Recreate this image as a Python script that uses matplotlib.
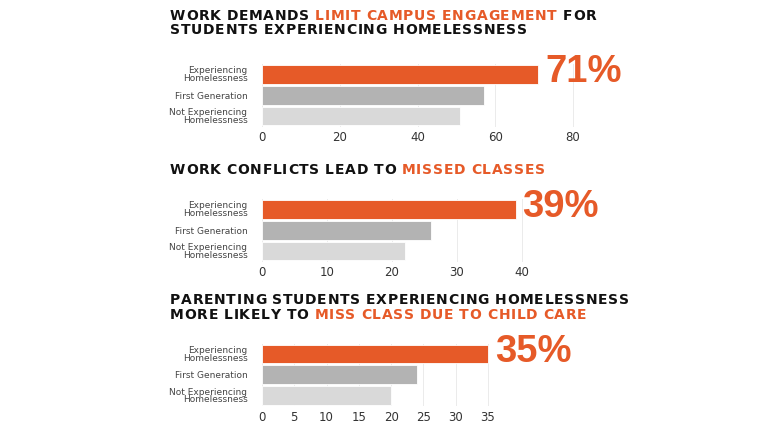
import matplotlib.pyplot as plt

# data
groups = ["Experiencing\nHomelessness", "First Generation", "Not Experiencing\nHomelessness"]
work_demands = [71, 57, 51]
missed_classes = [39, 26, 22]
child_care = [35, 24, 20]

ticks_1 = [0, 20, 40, 60, 80]
ticks_2 = [0, 10, 20, 30, 40]
ticks_3 = [0, 5, 10, 15, 20, 25, 30, 35]

ORANGE = "#E65A28"
BAR_COLORS = [ORANGE, "#B3B3B3", "#D9D9D9"]
W, H = 768, 432

fig = plt.figure(figsize=(7.68, 4.32), dpi=100)
fig.patch.set_facecolor("white")
renderer = fig.canvas.get_renderer()


def title_line(parts, x_px, base_px, size=10.0, track=0.7):
    # parts: list of (text, color); drawn char by char to get the wide letter spacing
    x = x_px
    for txt, col in parts:
        for ch in txt:
            if ch == " ":
                x += size * 0.32 * 100 / 72 + track
                continue
            t = fig.text(x / W, 1 - base_px / H, ch, color=col, fontsize=size,
                         fontweight="bold", family="DejaVu Sans", va="baseline", ha="left")
            x += t.get_window_extent(renderer).width + track


def panel(values, ticks, xmax, scale, top_px, bottom_px):
    left = 262
    width = xmax * scale
    ax = fig.add_axes([left / W, 1 - bottom_px / H, width / W, (bottom_px - top_px) / H])
    y = list(range(len(values)))
    ax.barh(y, values, height=0.9, color=BAR_COLORS, edgecolor="white", linewidth=0.6, zorder=2)
    ax.set_ylim(len(values) - 0.5, -0.5)
    ax.set_xlim(0, xmax)
    ax.set_xticks(ticks)
    ax.set_yticks(y)
    ax.set_yticklabels(groups, fontsize=6.5, color="#444444", linespacing=0.8)
    ax.tick_params(axis="x", length=0, pad=3.5, labelsize=8.5, labelcolor="#333333")
    ax.tick_params(axis="y", length=0, pad=10.5)
    for s in ax.spines.values():
        s.set_visible(False)
    ax.grid(axis="x", color="#EBEBEB", linewidth=0.7, zorder=0)
    ax.set_axisbelow(True)
    ax.text(values[0] + 7 / scale, -0.1, f"{values[0]}%", color=ORANGE,
            fontsize=27.5, fontweight="bold", family="Liberation Sans",
            va="center", ha="left", clip_on=False)
    return ax


title_line([("WORK DEMANDS ", "#111111"), ("LIMIT CAMPUS ENGAGEMENT", ORANGE), (" FOR", "#111111")], 170, 20)
title_line([("STUDENTS EXPERIENCING HOMELESSNESS", "#111111")], 170, 34)
panel(work_demands, ticks_1, 90, 3.8875, 64, 126.5)

title_line([("WORK CONFLICTS LEAD TO ", "#111111"), ("MISSED CLASSES", ORANGE)], 170, 174)
panel(missed_classes, ticks_2, 45, 6.5, 199, 261.5)

title_line([("PARENTING STUDENTS EXPERIENCING HOMELESSNESS", "#111111")], 170, 304.5)
title_line([("MORE LIKELY TO ", "#111111"), ("MISS CLASS DUE TO CHILD CARE", ORANGE)], 170, 319)
panel(child_care, ticks_3, 37, 6.457, 343.5, 406)

fig.savefig("out.png", dpi=100, facecolor="white")
